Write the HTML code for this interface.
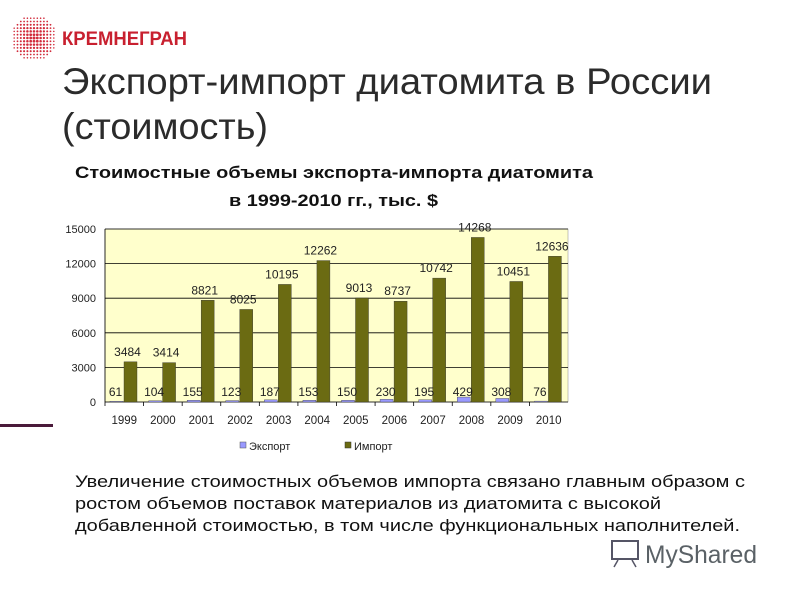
<!DOCTYPE html>
<html><head><meta charset="utf-8">
<style>
body{margin:0;width:800px;height:600px;background:#fff;font-family:"Liberation Sans","Noto Sans CJK SC",sans-serif;position:relative;overflow:hidden}
.abs{position:absolute}
</style></head><body>
<svg class="abs" style="left:0;top:0" width="800" height="600">
  <g>
    <g fill="#d12a3a" id="dots"></g>
  </g>
  <text x="62" y="45" font-size="19" font-weight="bold" fill="#c8202f" textLength="125" lengthAdjust="spacingAndGlyphs">КРЕМНЕГРАН</text>
  <text x="62" y="94" font-size="37" fill="#2b2b2b" textLength="650" lengthAdjust="spacingAndGlyphs">Экспорт-импорт диатомита в России</text>
  <text x="62" y="139" font-size="37" fill="#2b2b2b" textLength="206" lengthAdjust="spacingAndGlyphs">(стоимость)</text>
  <text x="75" y="178" font-size="17" font-weight="bold" fill="#111" textLength="518" lengthAdjust="spacingAndGlyphs">Стоимостные объемы экспорта-импорта диатомита</text>
  <text x="229" y="206" font-size="17" font-weight="bold" fill="#111" textLength="209" lengthAdjust="spacingAndGlyphs">в 1999-2010 гг., тыс. $</text>
  <rect x="0" y="424" width="53" height="3" fill="#4a1a3a"/>
  <g id="chart"></g>
  <g>
    <rect x="240" y="442" width="6" height="6" fill="#9999ff" stroke="#555" stroke-width="0.5"/>
    <text x="249" y="450" font-size="11" fill="#222">Экспорт</text>
    <rect x="345" y="442" width="6" height="6" fill="#6b6b12" stroke="#333" stroke-width="0.5"/>
    <text x="354" y="450" font-size="11" fill="#222">Импорт</text>
  </g>
  <text x="75" y="487" font-size="17" fill="#111" textLength="670" lengthAdjust="spacingAndGlyphs">Увеличение стоимостных объемов импорта связано главным образом с</text>
  <text x="75" y="509" font-size="17" fill="#111" textLength="586" lengthAdjust="spacingAndGlyphs">ростом объемов поставок материалов из диатомита с высокой</text>
  <text x="75" y="531" font-size="17" fill="#111" textLength="665" lengthAdjust="spacingAndGlyphs">добавленной стоимостью, в том числе функциональных наполнителей.</text>
  <g>
    <rect x="612" y="541" width="26" height="18" fill="none" stroke="#556" stroke-width="2"/>
    <line x1="618" y1="560" x2="614" y2="567" stroke="#556" stroke-width="1.5"/>
    <line x1="632" y1="560" x2="636" y2="567" stroke="#556" stroke-width="1.5"/>
    <text x="645" y="563" font-size="25" fill="#5a6166" textLength="112" lengthAdjust="spacingAndGlyphs">MyShared</text>
  </g>
</svg>
<script>
const years=["1999","2000","2001","2002","2003","2004","2005","2006","2007","2008","2009","2010"];
const exportVals=[61,104,155,123,187,153,150,230,195,429,308,76];
const importVals=[3484,3414,8821,8025,10195,12262,9013,8737,10742,14268,10451,12636];
const yTicks=[0,3000,6000,9000,12000,15000];
const NS="http://www.w3.org/2000/svg";
const X0=105,X1=568,Y0=402,Y1=229,YMAX=15000;
const y=v=>Y0-(v/YMAX)*(Y0-Y1);
const cw=(X1-X0)/years.length;
const xc=i=>X0+cw*i;
const g=document.getElementById('chart');
function mk(t,a,p){const e=document.createElementNS(NS,t);for(const k in a)e.setAttribute(k,a[k]);(p||g).appendChild(e);return e;}
const bg=mk('rect',{x:X0,y:Y1,width:X1-X0,height:Y0-Y1,fill:'#ffffcc',stroke:'#888','stroke-width':0.5});


yTicks.forEach(t=>{
  const l=mk('line',{x1:X0,x2:X1,y1:y(t),y2:y(t),stroke:'#000','stroke-width':0.8});
  
  
  const tx=mk('text',{x:X0-9,y:y(t)+4,'font-size':11,'text-anchor':'end',fill:'#222'});
  tx.textContent=t;
  
  
});
mk('line',{x1:X0,x2:X0,y1:Y1,y2:Y0,stroke:'#000','stroke-width':0.8});
years.forEach((yr,i)=>{
  const ex=xc(i)+5, ix=xc(i)+19, bw=13;
  const b1=mk('rect',{x:ex,y:y(exportVals[i]),width:bw,height:Y0-y(exportVals[i]),fill:'#9999ff',stroke:'#444','stroke-width':0.4});
  
  
  const b2=mk('rect',{x:ix,y:y(importVals[i]),width:bw,height:Y0-y(importVals[i]),fill:'#6b6b12',stroke:'#333','stroke-width':0.4});
  
  
  const l1=mk('text',{x:ex+bw/2-1,y:Y0-6,'font-size':12,'text-anchor':'middle',fill:'#222'});
  l1.textContent=exportVals[i];
  
  
  const l2=mk('text',{x:ix+bw/2-3,y:y(importVals[i])-6,'font-size':12,'text-anchor':'middle',fill:'#222'});
  l2.textContent=importVals[i];
  
  
  const xl=mk('text',{x:xc(i)+cw/2,y:Y0+22,'font-size':11.5,'text-anchor':'middle',fill:'#222'});
  xl.textContent=yr;
  
  
  mk('line',{x1:xc(i),x2:xc(i),y1:Y0,y2:Y0+4,stroke:'#000','stroke-width':0.8});
});
// logo dots
const d=document.getElementById('dots');
for(let r=-6;r<=6;r++)for(let c=-6;c<=6;c++){
  if(Math.abs(r)+Math.abs(c)>9)continue;
  const rad=1.5-0.12*Math.max(Math.abs(r),Math.abs(c));
  mk('circle',{cx:34+c*3.3,cy:38+r*3.3,r:Math.max(0.6,rad)},d);
}
</script>
</body></html>
